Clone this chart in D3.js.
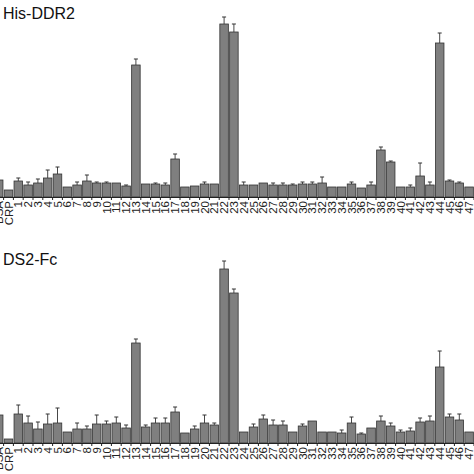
<!DOCTYPE html>
<html>
<head>
<meta charset="utf-8">
<script src="https://cdn.jsdelivr.net/npm/d3@7"></script>
<style>
  body { margin: 0; background: #fff; }
  svg { display: block; font-family: "Liberation Sans", Arial, sans-serif; }
</style>
</head>
<body>
<div id="chart"></div>
<script>
// Categories (the first one is cut off at the left edge of the picture)
const categories = ["BSA", "CRP"].concat(d3.range(1, 49).map(String));

// His-DDR2 binding: means and upper error values
const ddr2Values = [17, 7, 16, 12, 14, 19, 23, 10, 12, 16, 14, 14, 14, 11, 132, 13, 13, 12, 38, 10, 11, 13, 13, 173, 165,
  12, 12, 14, 12, 12, 12, 13, 13, 14, 10, 10, 13, 9, 12, 47, 35, 10, 10, 21, 12, 154, 16, 14, 10, 12];
const ddr2Errors = [17, 7, 19, 15, 18, 27, 30, 10, 15, 22, 15, 15, 14, 12, 138, 13, 14, 14, 43, 10, 11, 15, 13, 180, 173,
  15, 12, 14, 14, 14, 13, 15, 15, 20, 10, 10, 15, 9, 15, 50, 36, 10, 12, 34, 15, 164, 17, 15, 10, 12];

// DS2-Fc binding: means and upper error values
const ds2Values = [28, 4, 29, 20, 14, 19, 20, 11, 14, 14, 19, 19, 20, 15, 100, 16, 20, 20, 31, 10, 14, 20, 18, 174, 150,
  11, 16, 24, 18, 18, 11, 17, 22, 11, 11, 10, 20, 9, 15, 22, 17, 11, 12, 21, 22, 76, 26, 23, 11, 22];
const ds2Errors = [28, 4, 38, 27, 21, 29, 35, 11, 20, 17, 28, 22, 26, 18, 104, 18, 25, 25, 36, 10, 17, 28, 20, 182, 154,
  11, 19, 28, 23, 22, 11, 19, 22, 11, 11, 13, 26, 10, 15, 27, 20, 13, 15, 25, 27, 92, 29, 29, 11, 22];

const panels = [
  { title: "His-DDR2", values: ddr2Values, errors: ddr2Errors, base: 197, titleY: 19 },
  { title: "DS2-Fc", values: ds2Values, errors: ds2Errors, base: 443, titleY: 265 }
];

const width = 474, height = 474;
const svg = d3.select("#chart").append("svg")
  .attr("width", width)
  .attr("height", height);

// Shared x scale
const step = 9.8;
const x0 = 8.5 - 1.5 * step;
const x = d3.scaleBand()
  .domain(categories)
  .range([x0, x0 + categories.length * step])
  .paddingInner(0.13)
  .paddingOuter(0.065);

panels.forEach(p => {
  const y = d3.scaleLinear().domain([0, 180]).range([p.base, p.base - 180]);
  const g = svg.append("g");

  // Title
  g.append("text")
    .attr("x", 3)
    .attr("y", p.titleY)
    .attr("font-size", 16)
    .attr("fill", "#111")
    .text(p.title);

  // Bars
  g.selectAll("rect.bar")
    .data(categories)
    .enter()
    .append("rect")
    .attr("class", "bar")
    .attr("x", d => x(d))
    .attr("y", (d, i) => y(p.values[i]))
    .attr("width", x.bandwidth())
    .attr("height", (d, i) => y(0) - y(p.values[i]))
    .attr("fill", (d, i) => i === categories.length - 1 ? "#b0b0b0" : "#7f7f7f")
    .attr("stroke", "#333")
    .attr("stroke-width", 0.8);

  // Error bars
  const eb = g.selectAll("g.err")
    .data(categories)
    .enter()
    .append("g")
    .attr("class", "err")
    .filter((d, i) => p.errors[i] > p.values[i]);
  eb.append("line")
    .attr("x1", d => x(d) + x.bandwidth() / 2)
    .attr("x2", d => x(d) + x.bandwidth() / 2)
    .attr("y1", d => y(p.values[categories.indexOf(d)]))
    .attr("y2", d => y(p.errors[categories.indexOf(d)]))
    .attr("stroke", "#333")
    .attr("stroke-width", 0.9);
  eb.append("line")
    .attr("x1", d => x(d) + x.bandwidth() / 2 - 2)
    .attr("x2", d => x(d) + x.bandwidth() / 2 + 2)
    .attr("y1", d => y(p.errors[categories.indexOf(d)]))
    .attr("y2", d => y(p.errors[categories.indexOf(d)]))
    .attr("stroke", "#333")
    .attr("stroke-width", 1);

  // Axis line and ticks between bars
  g.append("line")
    .attr("x1", 0).attr("x2", width)
    .attr("y1", p.base + 0.5).attr("y2", p.base + 0.5)
    .attr("stroke", "#222");
  g.selectAll("line.tick")
    .data(categories)
    .enter()
    .append("line")
    .attr("x1", d => x(d) - step * 0.065)
    .attr("x2", d => x(d) - step * 0.065)
    .attr("y1", p.base)
    .attr("y2", p.base + 3)
    .attr("stroke", "#222");

  // Rotated category labels
  g.selectAll("text.lab")
    .data(categories)
    .enter()
    .append("text")
    .attr("class", "lab")
    .attr("transform", d => "translate(" + (x(d) + x.bandwidth() / 2 + 4) + "," + (p.base + 4) + ") rotate(-90)")
    .attr("text-anchor", "end")
    .attr("font-size", 11.5)
    .attr("fill", "#222")
    .text(d => d);
});
</script>
</body>
</html>
